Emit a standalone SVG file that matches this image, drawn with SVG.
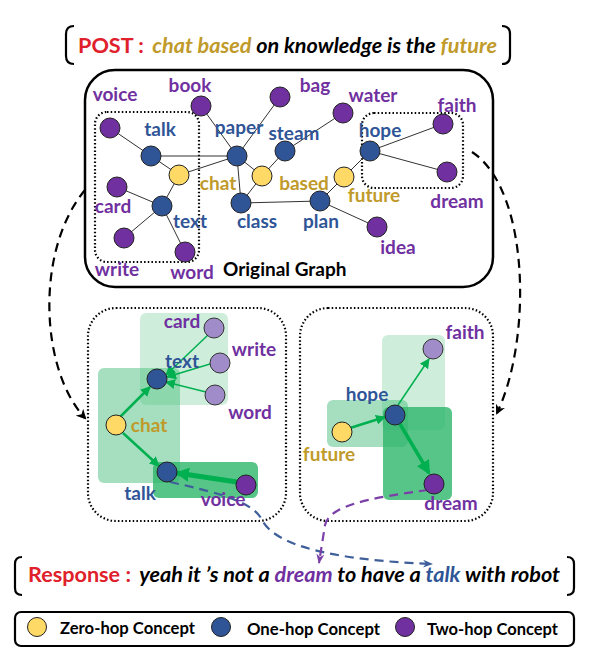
<svg xmlns="http://www.w3.org/2000/svg" width="592" height="665" viewBox="0 0 592 665">
<defs>
<style>
.lb{font-family:Lato,"Liberation Sans",sans-serif;font-weight:bold;font-size:19px;text-anchor:middle}
.pu{fill:#7030a0}.bl{fill:#2f5597}.go{fill:#c09a2a}
.e{stroke:#333;stroke-width:1;fill:none}
.ny{fill:#ffd966;stroke:#222;stroke-width:1}
.nb{fill:#2f5597;stroke:#222;stroke-width:1}
.np{fill:#7030a0;stroke:#222;stroke-width:1}
.nl{fill:#a08cc8;stroke:#333;stroke-width:1}
.dot{fill:none;stroke:#000;stroke-width:2.2;stroke-dasharray:1.5 2.2}
.ga{stroke:#00b050;fill:none}
.sent{font-family:Lato,"Liberation Sans",sans-serif;font-weight:bold;font-size:21px}
.lg{font-family:Lato,"Liberation Sans",sans-serif;font-weight:bold;font-size:17px;fill:#000}
</style>
<marker id="ah" markerWidth="10" markerHeight="10" refX="8" refY="5" orient="auto" markerUnits="userSpaceOnUse"><path d="M0,0 L10,5 L0,10 L3,5 Z" fill="#000"/></marker>
<marker id="gh" markerWidth="10" markerHeight="10" refX="9" refY="5" orient="auto" markerUnits="userSpaceOnUse"><path d="M0,0 L10,5 L0,10 Z" fill="#00b050"/></marker>
<marker id="ghb" markerWidth="14" markerHeight="14" refX="12" refY="7" orient="auto" markerUnits="userSpaceOnUse"><path d="M0,0 L14,7 L0,14 Z" fill="#00b050"/></marker>
<marker id="bh" markerWidth="10" markerHeight="10" refX="9" refY="5" orient="auto" markerUnits="userSpaceOnUse"><path d="M0,1 L10,5 L0,9 L3,5 Z" fill="#3f5f9a"/></marker>
<marker id="ph" markerWidth="10" markerHeight="10" refX="9" refY="5" orient="auto" markerUnits="userSpaceOnUse"><path d="M0,1 L10,5 L0,9 L3,5 Z" fill="#7b3fa8"/></marker>
</defs>
<rect width="592" height="665" fill="#fff"/>

<!-- POST -->
<g id="post">
<path d="M74,26 Q66,26 66,34 L66,56 Q66,64 74,64" fill="none" stroke="#000" stroke-width="2.2"/>
<path d="M502,26 Q510,26 510,34 L510,56 Q510,64 502,64" fill="none" stroke="#000" stroke-width="2.2"/>
<text x="78" y="53" class="sent" textLength="419" lengthAdjust="spacingAndGlyphs"><tspan fill="#e0202a">POST :</tspan><tspan font-style="italic" class="go" dx="8">chat based</tspan><tspan font-style="italic" fill="#000"> on knowledge is the </tspan><tspan font-style="italic" class="go">future</tspan></text>
</g>

<!-- Original graph frame -->
<g id="original-graph">
<rect x="85" y="70" width="408" height="217" rx="30" fill="none" stroke="#000" stroke-width="2.5"/>
<rect x="95" y="112" width="104" height="150" rx="12" class="dot"/>
<rect x="362" y="113" width="101" height="75" rx="12" class="dot"/>
<text x="223" y="276" font-family="Lato,'Liberation Sans',sans-serif" font-weight="bold" font-size="19" fill="#000">Original Graph</text>
</g>

<g id="graph-edges">
<line class="e" x1="110" y1="128" x2="151" y2="156"/>
<line class="e" x1="151" y1="156" x2="179" y2="175"/>
<line class="e" x1="151" y1="156" x2="237" y2="156"/>
<line class="e" x1="179" y1="175" x2="237" y2="156"/>
<line class="e" x1="179" y1="175" x2="162" y2="206"/>
<line class="e" x1="162" y1="206" x2="117" y2="187"/>
<line class="e" x1="162" y1="206" x2="124" y2="238"/>
<line class="e" x1="162" y1="206" x2="185" y2="252"/>
<line class="e" x1="201" y1="106" x2="237" y2="156"/>
<line class="e" x1="280" y1="97" x2="237" y2="156"/>
<line class="e" x1="237" y1="156" x2="262" y2="176"/>
<line class="e" x1="237" y1="156" x2="241" y2="203"/>
<line class="e" x1="241" y1="203" x2="262" y2="176"/>
<line class="e" x1="262" y1="176" x2="285" y2="151"/>
<line class="e" x1="285" y1="151" x2="343" y2="113"/>
<line class="e" x1="241" y1="203" x2="320" y2="201"/>
<line class="e" x1="320" y1="201" x2="344" y2="177"/>
<line class="e" x1="344" y1="177" x2="370" y2="151"/>
<line class="e" x1="370" y1="151" x2="443" y2="124"/>
<line class="e" x1="370" y1="151" x2="447" y2="172"/>
<line class="e" x1="320" y1="201" x2="377" y2="227"/>
</g>

<g id="n-voice"><circle class="np" cx="110" cy="128" r="10"/><text class="lb pu" x="115" y="101">voice</text></g>
<g id="n-talk"><circle class="nb" cx="151" cy="156" r="10"/><text class="lb bl" x="160" y="136">talk</text></g>
<g id="n-chat"><circle class="ny" cx="179" cy="175" r="10"/><text class="lb go" x="218" y="190">chat</text></g>
<g id="n-book"><circle class="np" cx="201" cy="106" r="10"/><text class="lb pu" x="190" y="92">book</text></g>
<g id="n-bag"><circle class="np" cx="280" cy="97" r="10"/><text class="lb pu" x="315" y="92">bag</text></g>
<g id="n-paper"><circle class="nb" cx="237" cy="156" r="10"/><text class="lb bl" x="239" y="134">paper</text></g>
<g id="n-steam"><circle class="nb" cx="285" cy="151" r="10"/><text class="lb bl" x="294" y="140">steam</text></g>
<g id="n-based"><circle class="ny" cx="262" cy="176" r="10"/><text class="lb go" x="304" y="190">based</text></g>
<g id="n-class"><circle class="nb" cx="241" cy="203" r="10"/><text class="lb bl" x="257" y="228">class</text></g>
<g id="n-plan"><circle class="nb" cx="320" cy="201" r="10"/><text class="lb bl" x="321" y="228">plan</text></g>
<g id="n-card"><circle class="np" cx="117" cy="187" r="10"/><text class="lb pu" x="113" y="213">card</text></g>
<g id="n-text"><circle class="nb" cx="162" cy="206" r="10"/><text class="lb bl" x="190" y="228">text</text></g>
<g id="n-write"><circle class="np" cx="124" cy="238" r="10"/><text class="lb pu" x="117" y="276">write</text></g>
<g id="n-word"><circle class="np" cx="185" cy="252" r="10"/><text class="lb pu" x="192" y="279">word</text></g>
<g id="n-water"><circle class="np" cx="343" cy="113" r="10"/><text class="lb pu" x="373" y="102">water</text></g>
<g id="n-hope"><circle class="nb" cx="370" cy="151" r="10"/><text class="lb bl" x="380" y="137">hope</text></g>
<g id="n-future"><circle class="ny" cx="344" cy="177" r="10"/><text class="lb go" x="374" y="202">future</text></g>
<g id="n-faith"><circle class="np" cx="443" cy="124" r="10"/><text class="lb pu" x="457" y="112">faith</text></g>
<g id="n-dream"><circle class="np" cx="447" cy="172" r="10"/><text class="lb pu" x="457" y="208">dream</text></g>
<g id="n-idea"><circle class="np" cx="377" cy="227" r="10"/><text class="lb pu" x="398" y="254">idea</text></g>

<!-- Lower left subgraph -->
<g id="sub-left">
<rect x="88" y="308" width="198" height="213" rx="28" class="dot"/>
<rect x="140" y="313" width="88" height="92" rx="6" fill="#7fd1a0" fill-opacity="0.38"/>
<rect x="98" y="368" width="82" height="115" rx="6" fill="#4cbf80" fill-opacity="0.5"/>
<rect x="153" y="462" width="105" height="36" rx="6" fill="#2db56a" fill-opacity="0.8"/>
</g>
<g id="sub-right">
<rect x="300" y="308" width="193" height="213" rx="28" class="dot"/>
<rect x="382" y="335" width="63" height="95" rx="6" fill="#7fd1a0" fill-opacity="0.38"/>
<rect x="327" y="400" width="81" height="47" rx="6" fill="#4cbf80" fill-opacity="0.5"/>
<rect x="383" y="407" width="69" height="93" rx="6" fill="#2db56a" fill-opacity="0.8"/>
</g>

<g id="connectors">
<path d="M85,190 C 35,250 40,370 85,418" fill="none" stroke="#000" stroke-width="2.2" stroke-dasharray="9 6" marker-end="url(#ah)"/>
<path d="M472,152 C 530,190 532,340 497,413" fill="none" stroke="#000" stroke-width="2.2" stroke-dasharray="9 6" marker-end="url(#ah)"/>
<line class="ga" stroke-width="2.5" x1="120" y1="417" x2="150" y2="387" marker-end="url(#gh)"/>
<line class="ga" stroke-width="1.5" x1="208" y1="335" x2="166" y2="375" marker-end="url(#gh)"/>
<line class="ga" stroke-width="1.5" x1="210" y1="364" x2="167" y2="377" marker-end="url(#gh)"/>
<line class="ga" stroke-width="1.5" x1="206" y1="392" x2="166" y2="382" marker-end="url(#gh)"/>
<line class="ga" stroke-width="2.5" x1="123" y1="433" x2="159" y2="466" marker-end="url(#gh)"/>
<line class="ga" stroke-width="5" x1="237" y1="482" x2="177" y2="473" marker-end="url(#ghb)"/>
<line class="ga" stroke-width="2.5" x1="350" y1="428" x2="385" y2="417" marker-end="url(#gh)"/>
<line class="ga" stroke-width="1.5" x1="398" y1="405" x2="429" y2="359" marker-end="url(#gh)"/>
<line class="ga" stroke-width="3.5" x1="400" y1="424" x2="429" y2="473" marker-end="url(#ghb)"/>
<path d="M170,482 C 230,495 255,505 262,520 C 275,545 330,560 432,564" fill="none" stroke="#3f5f9a" stroke-width="2.2" stroke-dasharray="9 6" marker-end="url(#bh)"/>
<path d="M428,490 C 370,498 330,505 325,525 L 319,563" fill="none" stroke="#7b3fa8" stroke-width="2.2" stroke-dasharray="9 6" marker-end="url(#ph)"/>
</g>

<g id="s-card"><circle class="nl" cx="214" cy="328" r="10"/><text class="lb pu" x="182" y="328">card</text></g>
<g id="s-write"><circle class="nl" cx="220" cy="363" r="10"/><text class="lb pu" x="254" y="356">write</text></g>
<g id="s-word"><circle class="nl" cx="215" cy="395" r="10"/><text class="lb pu" x="250" y="419">word</text></g>
<g id="s-text"><circle class="nb" cx="157" cy="379" r="10"/><text class="lb bl" x="182" y="368">text</text></g>
<g id="s-chat"><circle class="ny" cx="116" cy="425" r="10"/><text class="lb go" x="149" y="432">chat</text></g>
<g id="s-talk"><circle class="nb" cx="167" cy="472" r="10"/><text class="lb bl" x="140" y="500">talk</text></g>
<g id="s-voice"><circle class="np" cx="246" cy="485" r="10"/><text class="lb pu" x="223" y="506">voice</text></g>
<g id="s-faith"><circle class="nl" cx="433" cy="349" r="10"/><text class="lb pu" x="465" y="339">faith</text></g>
<g id="s-hope"><circle class="nb" cx="395" cy="415" r="10"/><text class="lb bl" x="367" y="401">hope</text></g>
<g id="s-future"><circle class="ny" cx="342" cy="432" r="10"/><text class="lb go" x="329" y="461">future</text></g>
<g id="s-dream"><circle class="np" cx="434" cy="484" r="10"/><text class="lb pu" x="451" y="510">dream</text></g>

<!-- Response -->
<g id="response">
<path d="M22,557 Q15,557 15,564 L15,588 Q15,595 22,595" fill="none" stroke="#000" stroke-width="2.2"/>
<path d="M567,557 Q574,557 574,564 L574,588 Q574,595 567,595" fill="none" stroke="#000" stroke-width="2.2"/>
<text x="28" y="582" class="sent" textLength="532" lengthAdjust="spacingAndGlyphs"><tspan fill="#e0202a">Response :</tspan><tspan font-style="italic" fill="#000" dx="8">yeah it ’s not a </tspan><tspan font-style="italic" fill="#7030a0">dream</tspan><tspan font-style="italic" fill="#000"> to have a </tspan><tspan font-style="italic" fill="#2f5597">talk</tspan><tspan font-style="italic" fill="#000"> with robot</tspan></text>
</g>

<!-- Legend -->
<g id="legend">
<rect x="15" y="612" width="559" height="34" rx="6" fill="none" stroke="#000" stroke-width="2.2"/>
<circle class="ny" cx="37" cy="627" r="9.5" stroke-width="1.5"/>
<text x="60" y="634" class="lg" textLength="135" lengthAdjust="spacingAndGlyphs">Zero-hop Concept</text>
<circle class="nb" cx="221" cy="627" r="9.5" stroke-width="1.5"/>
<text x="247" y="635" class="lg" textLength="133" lengthAdjust="spacingAndGlyphs">One-hop Concept</text>
<circle class="np" cx="405" cy="627" r="9.5" stroke-width="1.5"/>
<text x="427" y="635" class="lg" textLength="131" lengthAdjust="spacingAndGlyphs">Two-hop Concept</text>
</g>
</svg>
